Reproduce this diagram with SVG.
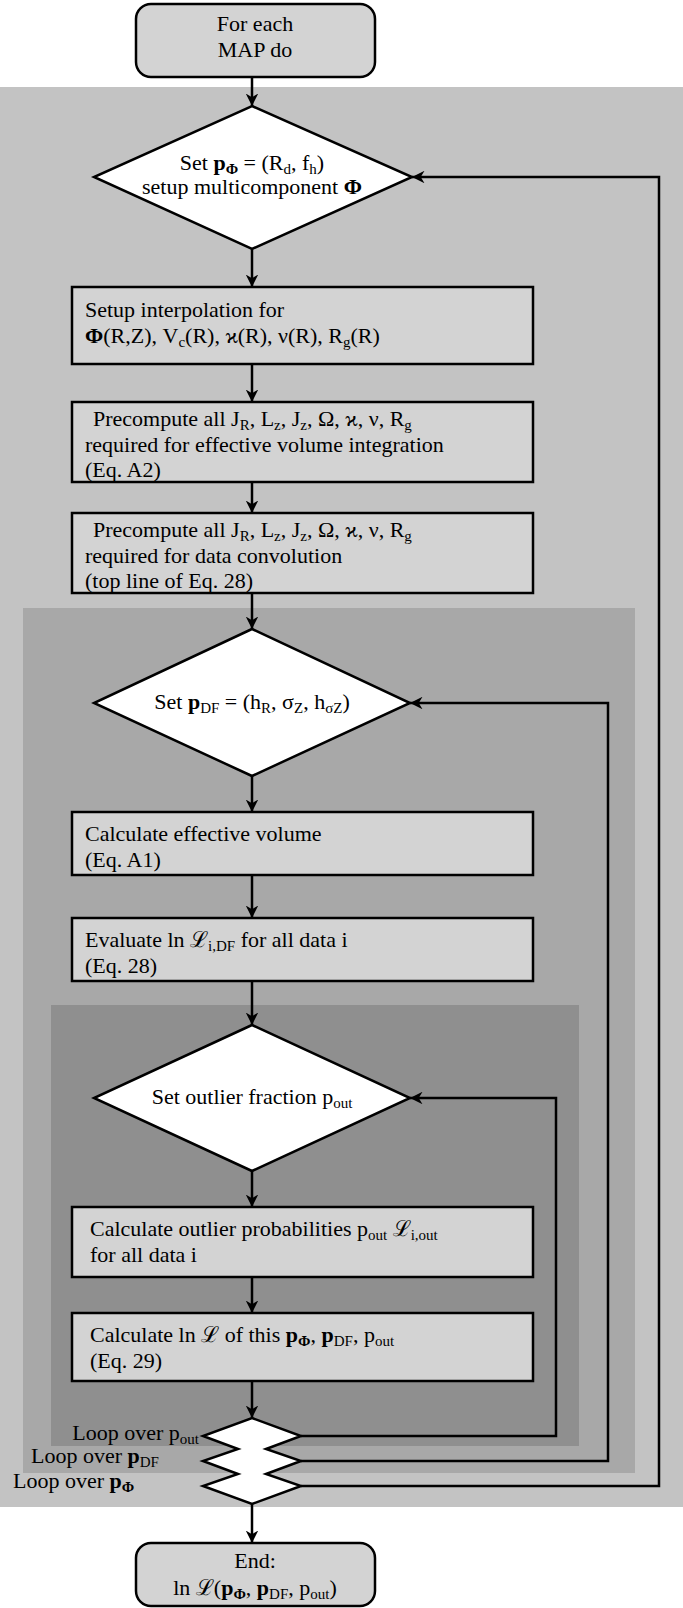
<svg xmlns="http://www.w3.org/2000/svg" width="683" height="1608" viewBox="0 0 683 1608">
<style>
text{font-family:"Liberation Serif","DejaVu Serif",serif;font-size:22px;fill:#000}
.c{text-anchor:middle}
.b{font-weight:bold}
.s{font-size:15px}
.box{fill:#d3d3d3;stroke:#000;stroke-width:2.5}
.dia{fill:#fff;stroke:#000;stroke-width:2.5}
.ln{fill:none;stroke:#000;stroke-width:2.5}
</style>
<defs><marker id="a" viewBox="0 0 10 10" refX="10" refY="5" markerWidth="5" markerHeight="5" orient="auto" markerUnits="strokeWidth"><path d="M0,0 L10,5 L0,10 L3,5 z" fill="#000"/></marker></defs>
<g id="bg">
<rect x="0" y="87" width="683" height="1420" fill="#c3c3c3"/>
<rect x="23" y="608" width="612" height="865" fill="#a8a8a8"/>
<rect x="51" y="1005" width="528" height="441" fill="#8f8f8f"/>
</g>
<g id="start"><rect class="box" x="136" y="4" width="239" height="73" rx="15"/><text class="c" x="255" y="31">For each</text><text class="c" x="255" y="57">MAP do</text></g>
<g id="d1"><polygon class="dia" points="252,106 412,177 252,249 94,177"/><text class="c" x="252" y="170">Set <tspan class="b">p</tspan><tspan class="s b" dy="4">Φ</tspan><tspan dy="-4"> = (R</tspan><tspan class="s" dy="4">d</tspan><tspan dy="-4">, f</tspan><tspan class="s" dy="4">h</tspan><tspan dy="-4">)</tspan></text><text class="c" x="252" y="194">setup multicomponent <tspan class="b">Φ</tspan></text></g>
<g id="b2"><rect class="box" x="72" y="287" width="461" height="77"/><text x="85" y="317">Setup interpolation for</text><text x="85" y="343"><tspan class="b">Φ</tspan>(R,Z), V<tspan class="s" dy="4">c</tspan><tspan dy="-4">(R), ϰ(R), ν(R), R</tspan><tspan class="s" dy="4">g</tspan><tspan dy="-4">(R)</tspan></text></g>
<g id="b3"><rect class="box" x="72" y="402" width="461" height="80"/><text x="93" y="426">Precompute all  J<tspan class="s" dy="4">R</tspan><tspan dy="-4">, L</tspan><tspan class="s" dy="4">z</tspan><tspan dy="-4">, J</tspan><tspan class="s" dy="4">z</tspan><tspan dy="-4">, Ω, ϰ, ν, R</tspan><tspan class="s" dy="4">g</tspan></text><text x="85" y="452">required for effective volume integration</text><text x="85" y="477">(Eq. A2)</text></g>
<g id="b4"><rect class="box" x="72" y="513" width="461" height="80"/><text x="93" y="537">Precompute all  J<tspan class="s" dy="4">R</tspan><tspan dy="-4">, L</tspan><tspan class="s" dy="4">z</tspan><tspan dy="-4">, J</tspan><tspan class="s" dy="4">z</tspan><tspan dy="-4">, Ω, ϰ, ν, R</tspan><tspan class="s" dy="4">g</tspan></text><text x="85" y="563">required for data convolution</text><text x="85" y="588">(top line of Eq. 28)</text></g>
<g id="d2"><polygon class="dia" points="252,629 410,703 252,776 94,703"/><text class="c" x="252" y="709">Set <tspan class="b">p</tspan><tspan class="s" dy="4">DF</tspan><tspan dy="-4"> = (h</tspan><tspan class="s" dy="4">R</tspan><tspan dy="-4">, σ</tspan><tspan class="s" dy="4">Z</tspan><tspan dy="-4">, h</tspan><tspan class="s" dy="4">σZ</tspan><tspan dy="-4">)</tspan></text></g>
<g id="b5"><rect class="box" x="72" y="812" width="461" height="63"/><text x="85" y="841">Calculate effective volume</text><text x="85" y="867">(Eq. A1)</text></g>
<g id="b6"><rect class="box" x="72" y="918" width="461" height="63"/><text x="85" y="947">Evaluate ln ℒ<tspan class="s" dy="4">i,DF</tspan><tspan dy="-4"> for all data i</tspan></text><text x="85" y="973">(Eq. 28)</text></g>
<g id="d3"><polygon class="dia" points="252,1025 410,1098 252,1171 94,1098"/><text class="c" x="252" y="1104">Set outlier fraction p<tspan class="s" dy="4">out</tspan></text></g>
<g id="b7"><rect class="box" x="72" y="1207" width="461" height="70"/><text x="90" y="1236">Calculate outlier probabilities p<tspan class="s" dy="4">out</tspan><tspan dy="-4"> ℒ</tspan><tspan class="s" dy="4">i,out</tspan></text><text x="90" y="1262">for all data i</text></g>
<g id="b8"><rect class="box" x="72" y="1313" width="461" height="68"/><text x="90" y="1342">Calculate ln ℒ of this <tspan class="b">p</tspan><tspan class="s b" dy="4">Φ</tspan><tspan dy="-4">, </tspan><tspan class="b">p</tspan><tspan class="s" dy="4">DF</tspan><tspan dy="-4">, p</tspan><tspan class="s" dy="4">out</tspan></text><text x="90" y="1368">(Eq. 29)</text></g>
<g id="loop"><polygon class="dia" points="252,1418 301,1436 266,1449 301,1461 266,1474 301,1486 252,1504 203,1486 238,1474 203,1461 238,1449 203,1436"/>
<text x="199" y="1440" text-anchor="end">Loop over p<tspan class="s" dy="4">out</tspan></text>
<text x="31" y="1463">Loop over <tspan class="b">p</tspan><tspan class="s" dy="4">DF</tspan></text>
<text x="13" y="1488">Loop over <tspan class="b">p</tspan><tspan class="s b" dy="4">Φ</tspan></text></g>
<g id="end"><rect class="box" x="136" y="1543" width="239" height="63" rx="15"/><text class="c" x="255" y="1568">End:</text><text class="c" x="255" y="1595">ln ℒ(<tspan class="b">p</tspan><tspan class="s b" dy="4">Φ</tspan><tspan dy="-4">, </tspan><tspan class="b">p</tspan><tspan class="s" dy="4">DF</tspan><tspan dy="-4">, p</tspan><tspan class="s" dy="4">out</tspan><tspan dy="-4">)</tspan></text></g>
<g id="connectors" class="ln">
<path class="ln" marker-end="url(#a)" d="M252,77V106"/>
<path class="ln" marker-end="url(#a)" d="M252,249V287"/>
<path class="ln" marker-end="url(#a)" d="M252,364V402"/>
<path class="ln" marker-end="url(#a)" d="M252,482V513"/>
<path class="ln" marker-end="url(#a)" d="M252,593V629"/>
<path class="ln" marker-end="url(#a)" d="M252,776V812"/>
<path class="ln" marker-end="url(#a)" d="M252,875V918"/>
<path class="ln" marker-end="url(#a)" d="M252,981V1025"/>
<path class="ln" marker-end="url(#a)" d="M252,1171V1207"/>
<path class="ln" marker-end="url(#a)" d="M252,1277V1313"/>
<path class="ln" marker-end="url(#a)" d="M252,1381V1418"/>
<path class="ln" marker-end="url(#a)" d="M252,1504V1543"/>
<path class="ln" marker-end="url(#a)" d="M301,1436H556V1098H410"/>
<path class="ln" marker-end="url(#a)" d="M301,1461H608V703H410"/>
<path class="ln" marker-end="url(#a)" d="M301,1486H659V177H412"/>
</g>
</svg>
